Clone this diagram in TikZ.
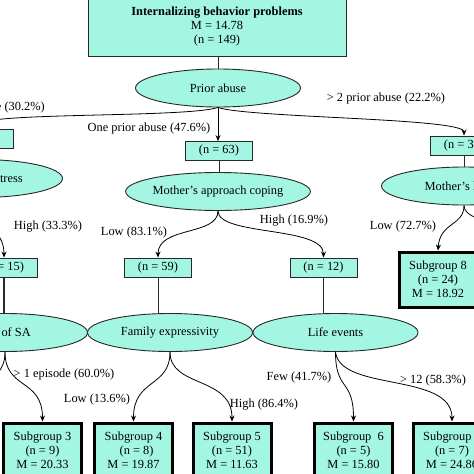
\documentclass[tikz,border=0pt]{standalone}
\usepackage{fontspec}
\setmainfont{Liberation Serif}
\usetikzlibrary{arrows.meta,shapes.geometric}
\definecolor{aqua}{RGB}{163,247,226}
\definecolor{edge}{RGB}{40,40,40}
\tikzset{
  txt/.style={font=\fontsize{12.4}{14}\selectfont},
  topbox/.style={txt, draw=edge, fill=aqua, line width=0.9pt, minimum width=258pt, minimum height=58pt, inner sep=0pt, align=center},
  nbox/.style={txt, draw=edge, fill=aqua, line width=0.9pt, minimum width=67pt, minimum height=19pt, inner sep=0pt},
  ell/.style={txt, ellipse, draw=edge, fill=aqua, line width=0.9pt, minimum width=165pt, minimum height=38pt, inner sep=0pt},
  sub/.style={txt, draw=black, fill=aqua, line width=3pt, minimum width=78pt, minimum height=55pt, inner sep=0pt, align=center},
  lbl/.style={txt, inner sep=0pt},
  link/.style={draw=edge, line width=0.9pt},
  arr/.style={draw=black, line width=0.8pt, -{Stealth[length=6pt,width=5pt]}}
}
\begin{document}
\begin{tikzpicture}[x=1pt,y=-1pt]
\useasboundingbox (0,0) rectangle (474,474);
\clip (0,0) rectangle (474,474);
\fill[white] (0,0) rectangle (474,474);

% nodes
\node[topbox] (root) at (217,27) {\textbf{Internalizing behavior problems}\\M = 14.78\\(n = 149)};
\node[ell] (pa) at (218,88) {Prior abuse};
\node[nbox] (n45) at (-20,138.5) {(n = 45)};
\node[nbox] (n63) at (219,151) {(n = 63)};
\node[nbox] (n33) at (464,145.5) {(n = 33)};
\node[ell] (mps) at (-20,178.5) {Mother's distress};
\node[ell] (mac) at (218,191.5) {Mother's approach coping};
\node[ell] (mag) at (464,186) {Mother's health};
\node[nbox] (n15) at (4,267.5) {(n = 15)};
\node[nbox] (n59) at (158,267.5) {(n = 59)};
\node[nbox] (n12) at (323.5,267.5) {(n = 12)};
\node[sub] (s8) at (438,279.5) {Subgroup 8\\(n = 24)\\M = 18.92};
\node[ell] (sa) at (5,332.5) {No. of SA};
\node[ell] (fe) at (170,332.5) {Family expressivity};
\node[ell] (le) at (335.5,332.5) {Life events};
\node[sub] (s3) at (42.5,450.5) {Subgroup 3\\(n = 9)\\M = 20.33};
\node[sub] (s4) at (133.5,450.5) {Subgroup 4\\\ \ (n = 8)\\M = 19.87};
\node[sub] (s5) at (232,450.5) {Subgroup 5\\(n = 51)\\M = 11.63};
\node[sub] (s6) at (353.5,450.5) {Subgroup\ \ 6\\(n = 5)\\M = 15.80};
\node[sub] (s7) at (452,450.5) {Subgroup 7\\(n = 7)\\M = 24.86};
\coordinate (s1) at (-110,258);
\coordinate (s2) at (-40,422);
\coordinate (s9) at (530,251);

% straight links
\draw[link] (root.south -| pa) -- (pa.north);
\draw[link] (n63.south) -- (n63.south |- mac.north);
\draw[link] (n45.south) -- (mps.north);
\draw[link] (n33.south) -- (n33.south |- mag.north);
\draw[link, line width=1.4pt] (n15.south) -- (n15.south |- sa.north);
\draw[link] (n59.south) -- (n59.south |- fe.north);
\draw[link] (n12.south) -- (n12.south |- le.north);

% curved arrows
\draw[arr] (pa.south) .. controls (186,118) and (-20,112) .. (n45.north);
\draw[arr] (pa.south) -- (pa.south |- n63.north);
\draw[arr] (pa.south) .. controls (250,118) and (464,118) .. (n33.north);
\draw[arr] (mps.south) .. controls (-20,228) and (4,228) .. (n15.north);
\draw[arr] (mps.south) .. controls (-20,228) and (-110,225) .. (s1);
\draw[arr] (mac.south) .. controls (218,236) and (158,226) .. (n59.north);
\draw[arr] (mac.south) .. controls (218,236) and (323.5,226) .. (n12.north);
\draw[arr] (mag.south) .. controls (464,226) and (440,222) .. (s8.north);
\draw[arr] (mag.south) .. controls (464,226) and (530,222) .. (s9);
\draw[arr] (sa.south) .. controls (5,390) and (42.5,378) .. (s3.north);
\draw[arr] (sa.south) .. controls (5,390) and (-40,378) .. (s2);
\draw[arr] (fe.south) .. controls (170,388) and (133.5,378) .. (s4.north);
\draw[arr] (fe.south) .. controls (170,388) and (232,376) .. (s5.north);
\draw[arr] (le.south) .. controls (335.5,392) and (353.5,378) .. (s6.north);
\draw[arr] (le.south) .. controls (340,392) and (452,372) .. (s7.north);

% labels
\node[lbl, anchor=east] (l1) at (45,108) {No prior abuse (30.2\%)};
\node[lbl] (l2) at (149,129) {One prior abuse (47.6\%)};
\node[lbl] (l3) at (386,99) {> 2 prior abuse (22.2\%)};
\node[lbl] (l4) at (48,227) {High (33.3\%)};
\node[lbl] (l5) at (134,233) {Low (83.1\%)};
\node[lbl] (l6) at (294,221) {High (16.9\%)};
\node[lbl] (l7) at (403,227) {Low (72.7\%)};
\node[lbl] (l8) at (64,375) {> 1 episode (60.0\%)};
\node[lbl] (l9) at (97,400) {Low (13.6\%)};
\node[lbl] (l10) at (264,405) {High (86.4\%)};
\node[lbl] (l11) at (299,378) {Few (41.7\%)};
\node[lbl] (l12) at (433,381) {> 12 (58.3\%)};
\end{tikzpicture}
\end{document}
